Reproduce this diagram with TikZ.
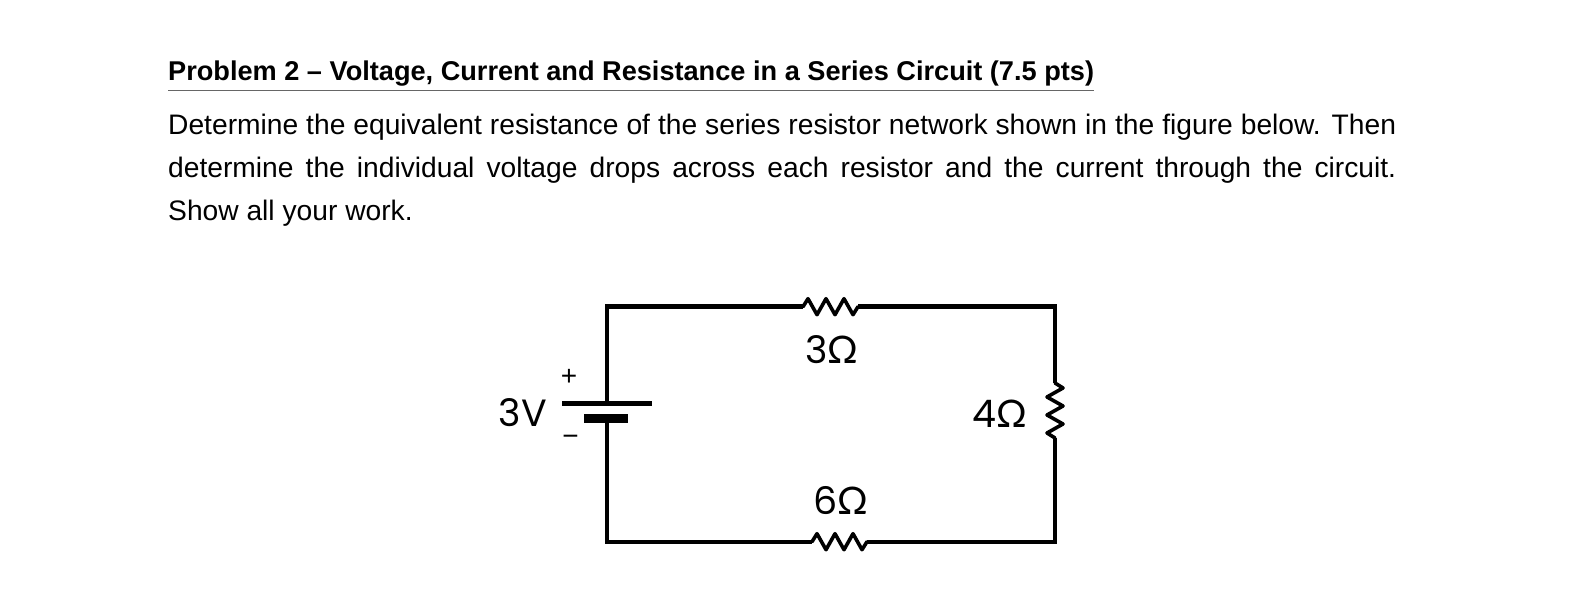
\documentclass[tikz,border=0pt]{standalone}
\usepackage{fontspec}
\setmainfont{Liberation Sans}
\newfontfamily\labelfont{Poppins}
\newfontfamily\omfont{Lato}
\newcommand{\ohms}{{\omfont Ω}}
\tikzset{
    x=1pt, y=-1pt,
    wire/.style={line width=4.4pt, line join=miter, line cap=butt},
    zig/.style={line width=3.6pt, line join=round, line cap=round},
    title/.style={anchor=base west, inner sep=0pt, font=\fontsize{27.15}{32}\selectfont\bfseries},
    body/.style={anchor=base west, inner sep=0pt, font=\fontsize{28.2}{32}\selectfont},
    val/.style={anchor=base, inner sep=0pt, font=\fontsize{38}{44}\labelfont},
    sign/.style={anchor=base, inner sep=0pt, font=\fontsize{28}{32}\selectfont},
}
\begin{document}
\begin{tikzpicture}
    \useasboundingbox (0,0) rectangle (1574,609);
    % Heading and text
    \node[title] (head) at (168,80.5) {Problem 2 – Voltage, Current and Resistance in a Series Circuit (7.5 pts)};
    \draw[line width=1.5pt, black!60] (168,90.3) -- (1094,90.3);
    \node[body] (l1) at (168,134.5) {\makebox[1228pt][s]{Determine the equivalent resistance of the series resistor network shown in the figure below. Then}};
    \node[body] (l2) at (168,177.7) {\makebox[1228pt][s]{determine the individual voltage drops across each resistor and the current through the circuit.}};
    \node[body] (l3) at (168,220.7) {Show all your work.};

    % Corners and ends of the resistors
    \coordinate (tl) at (606.7,306.7);
    \coordinate (tr) at (1055,306.7);
    \coordinate (bl) at (606.7,541.7);
    \coordinate (br) at (1055,541.7);
    \coordinate (r3a) at (803,306.7);
    \coordinate (r3b) at (858,306.7);
    \coordinate (r6a) at (812,541.7);
    \coordinate (r6b) at (867,541.7);
    \coordinate (r4a) at (1055,383);
    \coordinate (r4b) at (1055,438);
    \coordinate (batp) at (606.7,403.3);
    \coordinate (batn) at (606.7,418);

    % Wires
    \draw[wire] (batp) -- (tl) -- (r3a);
    \draw[wire] (r3b) -- (tr) -- (r4a);
    \draw[wire] (r4b) -- (br) -- (r6b);
    \draw[wire] (r6a) -- (bl) -- (batn);

    % Resistors
    \draw[zig] (r3a) -- ++(5,-8) -- ++(9,16) -- ++(9,-16) -- ++(9,16) -- ++(9,-16) -- ++(9,16) -- (r3b);
    \draw[zig] (r6a) -- ++(5,-8) -- ++(9,16) -- ++(9,-16) -- ++(9,16) -- ++(9,-16) -- ++(9,16) -- (r6b);
    \draw[zig] (r4a) -- ++(8,5) -- ++(-16,9) -- ++(16,9) -- ++(-16,9) -- ++(16,9) -- ++(-16,9) -- (r4b);

    % Battery
    \draw[line width=4.4pt] (562,403.3) -- (652,403.3);
    \fill (584,414) rectangle (628,423);

    % Labels
    \node[val] (v3) at (523,426.5) {3V};
    \node[val] (o3) at (832,364) {3\ohms};
    \node[val] (o6) at (840.5,514) {6\ohms};
    \node[val] (o4) at (999.5,427) {4\ohms};
    \node[sign] (plus) at (569,385) {+};
    \node[sign] (minus) at (570.5,445) {−};
\end{tikzpicture}
\end{document}
